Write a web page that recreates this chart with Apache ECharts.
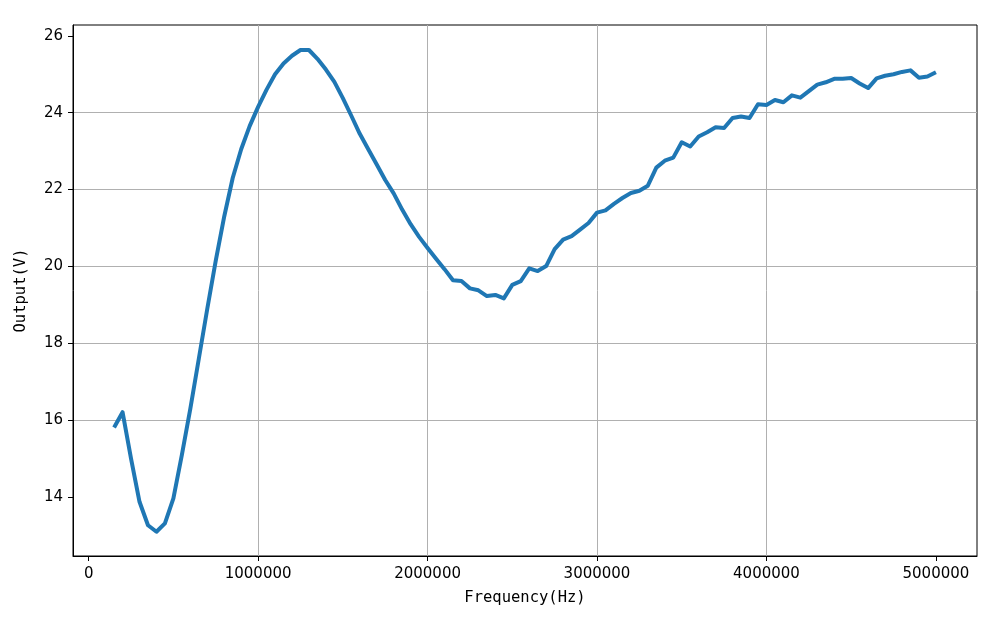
<!DOCTYPE html>
<html>
<head>
<meta charset="utf-8">
<script src="https://cdn.jsdelivr.net/npm/echarts@6/dist/echarts.min.js"></script>
<style>
html,body{margin:0;padding:0;background:#fff;}
#chart{width:1000px;height:625px;}
</style>
</head>
<body>
<div id="chart"></div>
<script>
const frequency = [
  150000,200000,250000,300000,350000,400000,450000,500000,550000,600000,
  650000,700000,750000,800000,850000,900000,950000,1000000,1050000,1100000,
  1150000,1200000,1250000,1300000,1350000,1400000,1450000,1500000,1550000,1600000,
  1650000,1700000,1750000,1800000,1850000,1900000,1950000,2000000,2050000,2100000,
  2150000,2200000,2250000,2300000,2350000,2400000,2450000,2500000,2550000,2600000,
  2650000,2700000,2750000,2800000,2850000,2900000,2950000,3000000,3050000,3100000,
  3150000,3200000,3250000,3300000,3350000,3400000,3450000,3500000,3550000,3600000,
  3650000,3700000,3750000,3800000,3850000,3900000,3950000,4000000,4050000,4100000,
  4150000,4200000,4250000,4300000,4350000,4400000,4450000,4500000,4550000,4600000,
  4650000,4700000,4750000,4800000,4850000,4900000,4950000,5000000
];
const outputV = [
  15.81,16.21,15.00,13.88,13.27,13.10,13.32,13.97,15.10,16.30,
  17.60,18.90,20.15,21.30,22.30,23.05,23.65,24.15,24.60,25.00,
  25.28,25.48,25.63,25.63,25.40,25.12,24.80,24.38,23.92,23.45,
  23.05,22.65,22.25,21.90,21.48,21.10,20.77,20.48,20.20,19.93,
  19.64,19.62,19.43,19.38,19.23,19.26,19.17,19.52,19.62,19.95,
  19.88,20.01,20.45,20.70,20.79,20.96,21.13,21.40,21.46,21.63,
  21.78,21.91,21.97,22.10,22.57,22.75,22.83,23.23,23.12,23.38,
  23.49,23.62,23.60,23.86,23.90,23.86,24.22,24.20,24.33,24.27,
  24.45,24.39,24.56,24.73,24.79,24.88,24.88,24.90,24.76,24.64,
  24.89,24.96,25.00,25.06,25.10,24.91,24.94,25.05
];
const xTicks = [0,1000000,2000000,3000000,4000000,5000000];
const yTicks = [14,16,18,20,22,24,26];
const xName = 'Frequency(Hz)';
const yName = 'Output(V)';

const seriesData = frequency.map((f,i)=>[f, outputV[i]]);
const chart = echarts.init(document.getElementById('chart'), null, {renderer:'canvas'});
const tickFont = {fontFamily:'DejaVu Sans', fontSize:15, color:'#000'};
const nameFont = {fontFamily:'DejaVu Sans Mono', fontSize:15.5, color:'#000'};
chart.setOption({
  animation:false,
  backgroundColor:'#fff',
  grid:{left:73,right:23,top:25,bottom:69,show:true,borderColor:'#000',borderWidth:1,containLabel:false},
  xAxis:{
    type:'value', min:-92500, max:5242500, splitNumber:5,
    name:xName, nameLocation:'middle', nameGap:34, nameTextStyle:nameFont,
    axisLine:{show:true,onZero:false,lineStyle:{color:'#000',width:1}},
    axisTick:{show:true,length:5,inside:false,lineStyle:{color:'#000',width:1},customValues:xTicks},
    axisLabel:{...tickFont, margin:11, customValues:xTicks, formatter:v=>String(v)},
    splitLine:{show:true,showMinLine:false,showMaxLine:false,lineStyle:{color:'#b0b0b0',width:1}}
  },
  yAxis:{
    type:'value', min:12.47, max:26.28, splitNumber:7,
    name:yName, nameLocation:'middle', nameGap:44, nameRotate:90, nameTextStyle:nameFont,
    axisLine:{show:true,onZero:false,lineStyle:{color:'#000',width:1}},
    axisTick:{show:true,length:5,inside:false,lineStyle:{color:'#000',width:1},customValues:yTicks},
    axisLabel:{...tickFont, margin:10, customValues:yTicks, formatter:v=>String(v)},
    splitLine:{show:true,showMinLine:false,showMaxLine:false,lineStyle:{color:'#b0b0b0',width:1}}
  },
  series:[{
    type:'line', data:seriesData, showSymbol:false, smooth:false,
    lineStyle:{color:'#1f77b4',width:4,join:'round',cap:'butt'},
    itemStyle:{color:'#1f77b4'}
  }]
});
</script>
</body>
</html>
